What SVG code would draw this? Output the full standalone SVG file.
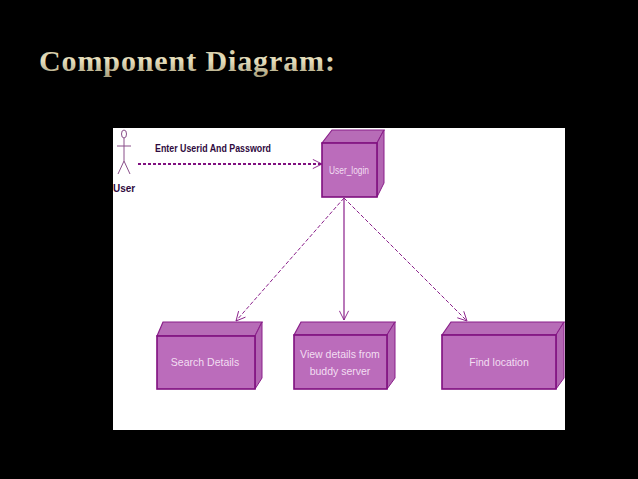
<svg xmlns="http://www.w3.org/2000/svg" width="638" height="479" viewBox="0 0 638 479">
<defs>
<linearGradient id="gold" x1="0" y1="0" x2="0" y2="1"><stop offset="0" stop-color="#c9c09a"/><stop offset="0.5" stop-color="#e6dfbd"/><stop offset="1" stop-color="#a89f7c"/></linearGradient>
<marker id="open" viewBox="0 0 12 12" refX="11" refY="6" markerWidth="11" markerHeight="11" markerUnits="userSpaceOnUse" orient="auto"><path d="M1 1L11 6L1 11" fill="none" stroke="#8a1f8a" stroke-width="1"/></marker>
</defs>
<style>
.front{fill:#bb6cbb;stroke:#7f0f7f;stroke-width:1.6}
.top{fill:#b76cb7;stroke:#8a1f8a;stroke-width:1.2}
.side{fill:#b266b2;stroke:#8a1f8a;stroke-width:1}
.lab{font-family:"Liberation Sans",Arial,sans-serif;font-size:10.5px;fill:#f2def2;text-anchor:middle}
.dark{font-family:"Liberation Sans",Arial,sans-serif;font-size:10px;font-weight:bold;fill:#2f0a40}
.dash{fill:none;stroke:#8a1f8a;stroke-width:1;stroke-dasharray:4 2}
</style>
<rect width="638" height="479" fill="#000"/>
<text x="39" y="71" font-family="'Liberation Serif','Times New Roman',serif" font-size="30" font-weight="bold" textLength="296" lengthAdjust="spacing" fill="url(#gold)">Component Diagram:</text>
<rect x="113" y="128" width="452" height="302" fill="#fff"/>
<g id="connectors">
<path d="M138 164H322" fill="none" stroke="#7f0f7f" stroke-width="2" stroke-dasharray="3 2" marker-end="url(#open)"/>
<path class="dash" d="M344 198L236 321" marker-end="url(#open)"/>
<path d="M344 198V320" fill="none" stroke="#8a1f8a" stroke-width="1.2" marker-end="url(#open)"/>
<path class="dash" d="M344 198L467 321" marker-end="url(#open)"/>
</g>
<g id="actor-user">
<g fill="none" stroke="#8a4f8a" stroke-width="1">
<ellipse cx="124" cy="134" rx="2.5" ry="4"/>
<path d="M124 138V161M117 146H131M124 161L118 174M124 161L130 174"/>
</g>
<text class="dark" x="113" y="192">User</text>
</g>
<text id="label-enter" class="dark" x="155" y="152" textLength="116" lengthAdjust="spacingAndGlyphs">Enter Userid And Password</text>
<g id="node-user-login">
<path class="top" d="M322 143L332 130H384L377 143Z"/>
<path class="side" d="M377 143L384 130V183L377 197Z"/>
<rect class="front" x="322" y="143" width="55" height="54"/>
<text class="lab" x="349" y="174" textLength="40" lengthAdjust="spacingAndGlyphs">User_login</text>
</g>
<g id="node-search-details">
<path class="top" d="M157 336L163 322H262L255 336Z"/>
<path class="side" d="M255 336L262 322V378L255 389Z"/>
<rect class="front" x="157" y="336" width="98" height="53"/>
<text class="lab" x="205" y="366">Search Details</text>
</g>
<g id="node-view-details">
<path class="top" d="M294 335L301 322H395L387 335Z"/>
<path class="side" d="M387 335L395 322V378L387 389Z"/>
<rect class="front" x="294" y="335" width="93" height="54"/>
<text class="lab" x="340" y="358">View details from</text>
<text class="lab" x="340" y="375">buddy server</text>
</g>
<g id="node-find-location">
<path class="top" d="M442 335L451 322H564L556 335Z"/>
<path class="side" d="M556 335L564 322V378L556 389Z"/>
<rect class="front" x="442" y="335" width="114" height="54"/>
<text class="lab" x="499" y="366">Find location</text>
</g>
</svg>
